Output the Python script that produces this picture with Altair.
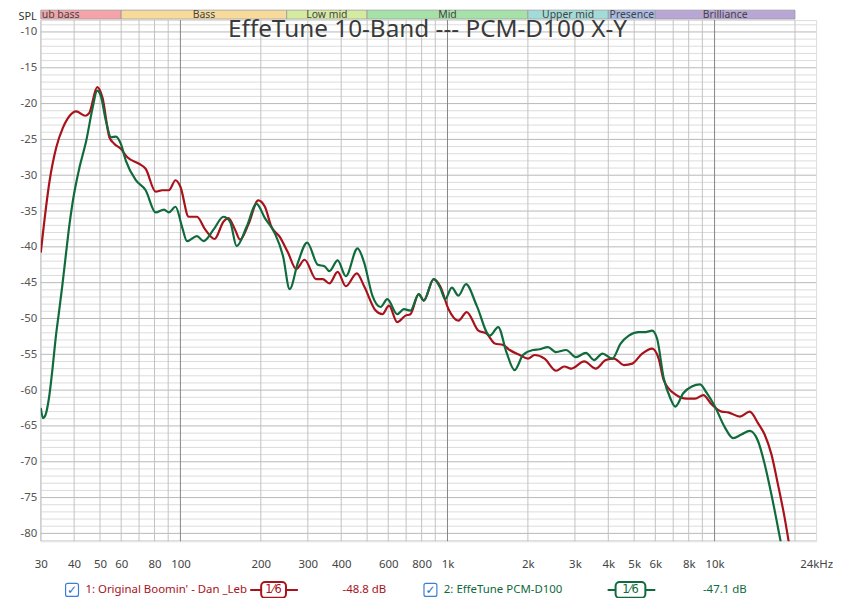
import altair as alt
import pandas as pd

FONT = "Noto Sans"
RED = "#a8121b"
GREEN = "#0f6a3c"

# ---- curve data (Hz, dB) ----
red_freq = [30, 32.4, 34.3, 36.3, 38.5, 40.7, 44.1, 45.6, 48.8, 51.1, 54.2, 56.5, 59.8, 63.3, 70, 74.1,
            80.8, 85.5, 90.5, 95.9, 100, 107.4, 115.3, 123.9, 134.2, 144.9, 151.2, 160.2, 167.2, 179.6,
            195.6, 207.2, 219.1, 235.5, 252.8, 271.5, 291.7, 322.1, 341.1, 361.3, 387.9, 416.4, 457.6,
            487.5, 538.3, 570.1, 603.8, 648.1, 696, 726.4, 780.5, 814.7, 887.6, 939.1, 1009, 1099, 1180,
            1305, 1401, 1504, 1616, 1710, 1863, 2001, 2118, 2308, 2551, 2738, 2900, 3250, 3593, 3913,
            4202, 4578, 4918, 5358, 5837, 6175, 6448, 7127, 7875, 8456, 9078, 9756, 10628, 11246, 12432,
            13541, 14538, 15396, 16310, 17257, 18271, 19070]
red_db = [-40.8, -30.7, -26.1, -23.4, -21.7, -21.1, -21.7, -21.3, -17.7, -19.2, -24.7, -25.6, -26.3,
          -27.5, -28.4, -29.1, -32.3, -32.1, -32.1, -30.7, -31.6, -35.8, -35.8, -37.6, -38.9, -36.5,
          -36.0, -37.6, -39.0, -36.9, -33.5, -34.4, -37.2, -38.6, -40.8, -43.1, -41.8, -44.5, -44.5,
          -45.1, -43.5, -45.5, -43.7, -45.5, -48.9, -49.4, -48.2, -50.5, -49.6, -49.4, -46.6, -47.5,
          -44.5, -45.5, -48.7, -50.3, -49.1, -51.7, -52.1, -53.5, -53.7, -54.4, -55.1, -55.6, -55.1,
          -55.6, -57.3, -56.7, -57.0, -56.0, -57.0, -55.8, -55.6, -56.5, -56.3, -54.9, -54.2, -55.6,
          -58.6, -60.6, -61.2, -61.2, -60.7, -62.0, -63.0, -63.1, -63.7, -63.0, -64.6, -66.2, -68.9,
          -73.1, -77.7, -81.8]

green_freq = [30, 30.6, 31.3, 32.2, 33.2, 34.1, 35.1, 36.1, 37.2, 38.2, 39.6, 41.9, 44.4, 46.9, 48.8,
              50.4, 52.6, 55.0, 57.4, 59.8, 62.5, 68.1, 74.1, 80.8, 86.8, 90.5, 95.9, 101.4, 105.9,
              115.3, 122.1, 133.0, 144.9, 153.5, 162.4, 176.9, 192.7, 207.2, 225.6, 242.3, 256.5,
              275.4, 298.3, 326.8, 346.1, 361.3, 387.9, 416.4, 460.4, 487.5, 523.3, 561.9, 595.2,
              648.1, 686.5, 726.4, 780.5, 814.7, 887.6, 939.1, 980.2, 1038, 1099, 1173, 1286, 1441,
              1548, 1662, 1784, 1917, 2089, 2210, 2376, 2551, 2778, 3026, 3297, 3539, 3803, 4143,
              4448, 4775, 5203, 5510, 5837, 6090, 6448, 6823, 7127, 7646, 8216, 8823, 9344, 10030,
              10927, 11731, 12606, 13541, 14538, 15396, 16310, 17257, 17815]
green_db = [-62.5, -63.9, -63.4, -61.1, -57.0, -52.8, -49.1, -45.5, -41.3, -37.6, -33.5, -28.9, -25.2,
            -20.6, -18.2, -19.0, -22.4, -24.7, -24.6, -25.6, -28.0, -30.7, -32.1, -35.2, -34.8, -35.2,
            -34.4, -37.2, -39.2, -38.5, -39.2, -37.6, -35.8, -36.5, -39.9, -37.2, -34.0, -36.0, -38.1,
            -41.3, -45.9, -42.2, -39.4, -42.5, -42.7, -43.4, -41.9, -44.1, -40.2, -42.2, -46.8, -48.4,
            -47.3, -49.4, -48.7, -48.9, -46.6, -47.5, -44.5, -45.7, -47.3, -45.7, -46.8, -45.2, -48.2,
            -52.4, -51.2, -54.7, -57.2, -55.1, -54.4, -54.3, -54.0, -54.7, -54.4, -55.4, -54.8, -55.8,
            -54.9, -55.6, -53.5, -52.4, -51.9, -51.9, -51.7, -52.8, -58.3, -61.1, -62.3, -60.4, -59.5,
            -59.2, -60.4, -62.3, -65.2, -66.7, -66.2, -65.7, -67.1, -70.3, -74.5, -79.1, -81.8]

series_names = ["1: Original Boomin' - Dan _Leb", "2: EffeTune PCM-D100"]
series_levels = ["-48.8 dB", "-47.1 dB"]

# ---- band strip ----
band_labels = ["ub bass", "Bass", "Low mid", "Mid", "Upper mid", "Presence", "Brilliance"]
band_start = [20, 60, 250, 500, 2000, 4000, 6000]
band_end = [60, 250, 500, 2000, 4000, 6000, 20000]
band_colors = ["#f5a3a8", "#f8db9a", "#d5eba0", "#a5e2a7", "#a2dcd8", "#a8bbe6", "#b8a6d6"]

# ---- axes ----
x_tick_values = [30, 40, 50, 60, 80, 100, 200, 300, 400, 600, 800, 1000, 2000, 3000, 4000, 5000,
                 6000, 8000, 10000, 24000]
x_tick_labels = ["30", "40", "50", "60", "80", "100", "200", "300", "400", "600", "800", "1k", "2k",
                 "3k", "4k", "5k", "6k", "8k", "10k", "24kHz"]
y_tick_values = [-10, -15, -20, -25, -30, -35, -40, -45, -50, -55, -60, -65, -70, -75, -80]
x_grid_minor = [30, 40, 50, 60, 70, 80, 90, 200, 300, 400, 500, 600, 700, 800, 900, 2000, 3000, 4000,
                5000, 6000, 7000, 8000, 9000, 20000]
x_grid_major = [100, 1000, 10000]
y_grid_major = y_tick_values
y_grid_minor = [v for v in range(-81, -8) if v % 5 != 0]

# ---- build ----
curves = pd.concat([
    pd.DataFrame({"freq": red_freq, "db": red_db, "s": "1"}),
    pd.DataFrame({"freq": green_freq, "db": green_db, "s": "2"}),
])
bands = pd.DataFrame({"label": band_labels, "start": band_start, "end": band_end, "color": band_colors})

xscale = alt.Scale(type="log", domain=[30, 24000], nice=False)
yscale = alt.Scale(domain=[-81.1, -8.34], nice=False, zero=False)
xlabel_expr = "".join(f"datum.value == {v} ? '{l}' : " for v, l in zip(x_tick_values, x_tick_labels)) + "''"
xaxis = alt.Axis(values=x_tick_values, labelExpr=xlabel_expr, title=None, grid=False, ticks=False,
                 domain=False, labelPadding=17, labelFontSize=11.5, labelColor="#444", labelFont=FONT,
                 labelOverlap=False, labelFlush=False)
yaxis = alt.Axis(values=y_tick_values, labelExpr="'-' + abs(datum.value)", title=None, grid=False,
                 ticks=False, domain=False, labelPadding=4, labelFontSize=11.5, labelColor="#555",
                 labelFont=FONT)

X = lambda f: alt.X(f, scale=xscale, axis=xaxis)
Y = lambda f: alt.Y(f, scale=yscale, axis=yaxis)

ygm = alt.Chart(pd.DataFrame({"v": y_grid_minor})).mark_rule(color="#dcdcdc", strokeWidth=1).encode(y=Y("v:Q"))
yGM = alt.Chart(pd.DataFrame({"v": y_grid_major})).mark_rule(color="#b8b8b8", strokeWidth=1).encode(y=Y("v:Q"))
xgm = alt.Chart(pd.DataFrame({"f": x_grid_minor})).mark_rule(color="#c2c2c2", strokeWidth=1).encode(x=X("f:Q"))
xGM = alt.Chart(pd.DataFrame({"f": x_grid_major})).mark_rule(color="#858585", strokeWidth=1).encode(x=X("f:Q"))

lines = alt.Chart(curves).mark_line(strokeWidth=2.2, interpolate="monotone", clip=True).encode(
    x=X("freq:Q"), y=Y("db:Q"),
    color=alt.Color("s:N", scale=alt.Scale(domain=["1", "2"], range=[RED, GREEN]), legend=None),
    order=alt.Order("s:N"),
)

band_base = alt.Chart(bands).transform_calculate(
    s0="max(datum.start, 30)", mid="sqrt(max(datum.start, 30) * datum.end)")
band_rects = band_base.mark_rect(stroke="#9a9a9a", strokeWidth=0.8).encode(
    x=X("s0:Q"), x2="end:Q", y=alt.value(-10), y2=alt.value(-1),
    fill=alt.Fill("color:N", scale=None))
band_text_c = band_base.transform_filter("datum.start >= 30").mark_text(
    font=FONT, fontSize=10.5, color="#444", baseline="middle", align="center").encode(
    x=X("mid:Q"), y=alt.value(-5), text="label:N")
band_text_l = band_base.transform_filter("datum.start < 30").mark_text(
    font=FONT, fontSize=10.5, color="#444", baseline="middle", align="left", dx=1).encode(
    x=X("s0:Q"), y=alt.value(-5), text="label:N")

one = pd.DataFrame({"k": [0]})


def txt(text, x, y, color, size=11.5, align="left", weight="normal", font=FONT, baseline="middle"):
    return alt.Chart(one).mark_text(text=text, align=align, baseline=baseline, fontSize=size, font=font,
                                    color=color, fontWeight=weight).encode(x=alt.value(x), y=alt.value(y))


def box(x1, x2, y1, y2, stroke, sw=2, r=4, fill="white"):
    return alt.Chart(one).mark_rect(stroke=stroke, strokeWidth=sw, cornerRadius=r, fill=fill).encode(
        x=alt.value(x1), x2=alt.value(x2), y=alt.value(y1), y2=alt.value(y2))


def hline(x1, x2, y, color, sw=2):
    return alt.Chart(one).mark_rule(color=color, strokeWidth=sw).encode(
        x=alt.value(x1), x2=alt.value(x2), y=alt.value(y))


title = txt("EffeTune 10-Band --- PCM-D100 X-Y", 389.5, 17.5, "#3a3a3a", size=24.5, align="center",
            baseline="alphabetic")
spl = txt("SPL", -4, -3.5, "#333", size=11, align="right")

LY = 574
legend_layers = [
    box(25, 38, LY - 6.5, LY + 6.5, "#3c7fd6", sw=1.2, r=2),
    txt("\u2713", 31.5, LY + 0.5, "#2a6fd0", size=12, align="center", weight="bold", font="DejaVu Sans"),
    txt(series_names[0], 45, LY, RED),
    hline(211, 259, LY, RED),
    box(222, 247, LY - 8, LY + 8, RED),
    txt("1\u20446", 234.5, LY, RED, size=11.5, align="center", font="DejaVu Sans"),
    txt(series_levels[0], 304, LY, RED),
    box(386, 399, LY - 6.5, LY + 6.5, "#3c7fd6", sw=1.2, r=2),
    txt("\u2713", 392.5, LY + 0.5, "#2a6fd0", size=12, align="center", weight="bold", font="DejaVu Sans"),
    txt(series_names[1], 406, LY, GREEN),
    hline(571, 619, LY, GREEN),
    box(579, 609, LY - 8, LY + 8, GREEN),
    txt("1\u20446", 594, LY, GREEN, size=11.5, align="center", font="DejaVu Sans"),
    txt(series_levels[1], 667, LY, GREEN),
]

chart = alt.layer(
    ygm, yGM, xgm, xGM, lines, band_rects, band_text_c, band_text_l, title, spl, *legend_layers
).properties(
    width=781, height=525,
    autosize=alt.AutoSizeParams(type="none"),
    padding={"left": 33, "top": 10, "right": 17, "bottom": 55},
).configure_view(stroke="#a0a0a0", strokeWidth=1).configure(background="white")

chart.save("out.html", embed_options={"renderer": "svg", "actions": False})
